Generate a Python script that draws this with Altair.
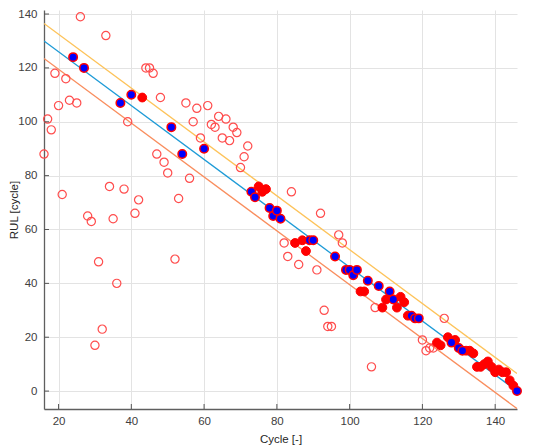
import altair as alt
import pandas as pd

# ---- data ----
open_x = [16, 17, 18, 19, 20, 21, 22, 23, 25, 26, 28, 29, 30, 31, 32, 33, 34, 35, 36, 38,
          39, 41, 42, 44, 45, 46, 47, 48, 49, 50, 52, 53, 55, 56, 57, 58, 59, 61, 62, 63,
          64, 65, 66, 67, 68, 69, 70, 71, 72, 82, 83, 84, 86, 91, 92, 93, 94, 95, 97, 98,
          106, 107, 120, 121, 122, 123, 126]
open_y = [88, 101, 97, 118, 106, 73, 116, 108, 107, 139, 65, 63, 17, 48, 23, 132, 76, 64, 40, 75,
          100, 66, 71, 120, 120, 118, 88, 109, 85, 81, 49, 71.5, 107, 79, 100, 105, 94, 106, 99, 98,
          102, 94, 101, 93, 98, 96, 83, 87, 91, 55, 50, 74, 47, 45, 66, 30, 24, 24, 58, 55,
          9, 31, 19, 15, 16, 16, 27]

red_x = [43, 75, 76, 77, 85, 87, 88, 103, 104, 109, 110, 113, 114, 115, 116, 124, 125, 127,
         129, 132, 133, 134, 135, 136, 137, 138, 139, 140, 141, 142, 143, 144, 145]
red_y = [109, 76, 74, 75, 55, 56, 52, 37, 37, 31, 34, 31, 35, 33, 28, 18, 17, 20,
         19, 15, 15, 14, 9, 9, 10, 11, 9, 7, 8, 7, 7, 4, 2]

blue_x = [24, 27, 37, 40, 51, 54, 60, 73, 74, 78, 79, 80, 81, 89, 90, 96, 99, 100, 101, 102,
          105, 108, 111, 112, 117, 118, 119, 128, 130, 131, 146]
blue_y = [124, 120, 107, 110, 98, 88, 90, 74, 72, 68, 65, 67, 64, 56, 56, 50, 45, 45, 43, 45,
          41, 39, 37, 34, 28, 27, 27, 18, 16, 15, 0]

line_x = [16, 146]
true_rul = [130, 0]
upper_rul = [136.5, 6.5]
lower_rul = [123.5, -6.5]

x_ticks = [20, 40, 60, 80, 100, 120, 140]
y_ticks = [0, 20, 40, 60, 80, 100, 120, 140]

# ---- tables ----
lines_df = pd.DataFrame({
    "x": line_x * 3,
    "y": upper_rul + true_rul + lower_rul,
    "series": ["upper"] * 2 + ["true"] * 2 + ["lower"] * 2,
})
open_df = pd.DataFrame({"x": open_x, "y": open_y})
red_df = pd.DataFrame({"x": red_x, "y": red_y})
blue_df = pd.DataFrame({"x": blue_x, "y": blue_y})
xt_df = pd.DataFrame({"x": x_ticks})
yt_df = pd.DataFrame({"y": y_ticks})

W, H = 473, 399
xs = alt.Scale(domain=[16, 146], nice=False, zero=False)
ys = alt.Scale(domain=[-6.65, 141.5], nice=False, zero=False)

xaxis = alt.Axis(values=x_ticks, title="Cycle [-]", ticks=False, labelPadding=6,
                 titleY=30, titleBaseline="middle")
yaxis = alt.Axis(values=y_ticks, title="RUL [cycle]", ticks=False, labelPadding=7,
                 titleX=-36, titleBaseline="top")

X = alt.X("x:Q", scale=xs, axis=xaxis)
Y = alt.Y("y:Q", scale=ys, axis=yaxis)

lines = alt.Chart(lines_df).mark_line(strokeWidth=1.3, clip=True).encode(
    x=X, y=Y,
    color=alt.Color("series:N",
                    scale=alt.Scale(domain=["upper", "true", "lower"],
                                    range=["#FDC35A", "#1E9BD7", "#F98E5E"]),
                    legend=None),
    detail="series:N",
)

opens = alt.Chart(open_df).mark_point(shape="circle", filled=False, stroke="#FF4D4D",
                                      strokeWidth=1.2, size=68, opacity=1).encode(x=X, y=Y)
reds = alt.Chart(red_df).mark_point(shape="circle", filled=True, fill="#FF0000",
                                    stroke="#FF0000", strokeWidth=1, size=78, opacity=1).encode(x=X, y=Y)
blues = alt.Chart(blue_df).mark_point(shape="circle", filled=True, fill="#0000FF",
                                      stroke="#FF0000", strokeWidth=1.5, size=72, opacity=1).encode(x=X, y=Y)

xticks = alt.Chart(xt_df).mark_rule(color="#555555", strokeWidth=1).encode(
    x=alt.X("x:Q", scale=xs), y=alt.value(H), y2=alt.value(H - 5))
yticks = alt.Chart(yt_df).mark_rule(color="#555555", strokeWidth=1).encode(
    y=alt.Y("y:Q", scale=ys), x=alt.value(0), x2=alt.value(5))

chart = alt.layer(lines, opens, reds, blues, xticks, yticks).properties(
    width=W, height=H,
    padding={"left": 36, "top": 2, "right": 25, "bottom": 39},
    autosize=alt.AutoSizeParams(type="none"),
).configure_view(stroke=None).configure_axis(
    labelFont="Liberation Sans", titleFont="Liberation Sans",
    labelFontSize=11.5, titleFontSize=11.5, titleFontWeight="normal",
    labelColor="#404040", titleColor="#262626",
    domainColor="#5f5f5f", domainWidth=1.3,
    gridColor="#E3E3E3", gridWidth=1,
)

chart.save("out.html", embed_options={"renderer": "svg", "actions": False})
